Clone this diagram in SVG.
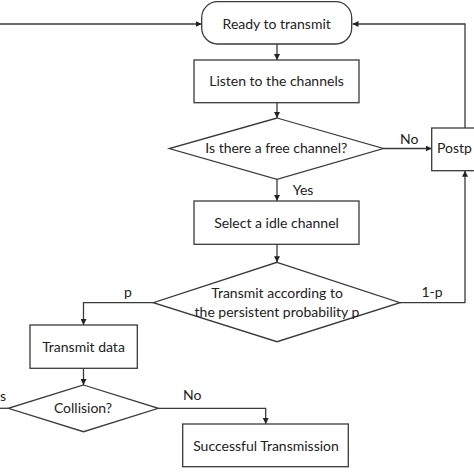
<svg xmlns="http://www.w3.org/2000/svg" width="474" height="474" viewBox="0 0 474 474">
<style>
.box{fill:#fff;stroke:#3a3a3a;stroke-width:1.3}
.ln{fill:none;stroke:#3a3a3a;stroke-width:1.3}
text{font-family:Lato,"Liberation Sans",sans-serif;font-size:14px;fill:#222}
.c{text-anchor:middle}
</style>
<defs>
<marker id="ah" viewBox="0 0 10 10" refX="10" refY="5" markerWidth="6" markerHeight="6" markerUnits="userSpaceOnUse" orient="auto">
<path d="M0,0 L10,5 L0,10 z" fill="#222"/>
</marker>
</defs>
<rect width="474" height="474" fill="#fff"/>
<g id="connectors">
<path class="ln" d="M0,24 H201.5" marker-end="url(#ah)"/>
<path class="ln" d="M277,44 V60" marker-end="url(#ah)"/>
<path class="ln" d="M277,103 V118" marker-end="url(#ah)"/>
<path class="ln" d="M383.3,148.5 H431.7" marker-end="url(#ah)"/>
<path class="ln" d="M277,179.3 V201" marker-end="url(#ah)"/>
<path class="ln" d="M277,244.3 V262.3" marker-end="url(#ah)"/>
<path class="ln" d="M400,302.7 H465 V170.7" marker-end="url(#ah)"/>
<path class="ln" d="M465,128 V24 H352.5" marker-end="url(#ah)"/>
<path class="ln" d="M153.3,302.7 H83.5 V325" marker-end="url(#ah)"/>
<path class="ln" d="M83.5,368.3 V385" marker-end="url(#ah)"/>
<path class="ln" d="M8.3,408.3 H0"/>
<path class="ln" d="M158.3,408.3 H265.7 V424" marker-end="url(#ah)"/>
<text x="400" y="143.5">No</text>
<text x="292.7" y="195">Yes</text>
<text x="124" y="297">p</text>
<text x="421.5" y="297">1-p</text>
<text x="183" y="400">No</text>
<text x="0" y="400.5">s</text>
</g>
<g id="ready">
<rect class="box" x="201.7" y="1.7" width="150" height="42.3" rx="16" ry="16"/>
<text class="c" x="276.7" y="29">Ready to transmit</text>
</g>
<g id="listen">
<rect class="box" x="194" y="60" width="165" height="42.7"/>
<text class="c" x="276.5" y="86">Listen to the channels</text>
</g>
<g id="free">
<polygon class="box" points="277,118 383.3,148.5 277,179.3 169.3,148.5"/>
<text class="c" x="276.3" y="153">Is there a free channel?</text>
</g>
<g id="postp">
<rect class="box" x="431.7" y="128" width="60" height="42.7"/>
<text x="437" y="153">Postp</text>
</g>
<g id="select">
<rect class="box" x="194" y="201" width="165" height="43.3"/>
<text class="c" x="276.5" y="227.5">Select a idle channel</text>
</g>
<g id="persist">
<polygon class="box" points="277,262.3 400,302.7 277,341.7 153.3,302.7"/>
<text class="c" x="277" y="297.5">Transmit according to</text>
<text class="c" x="277" y="317">the persistent probability p</text>
</g>
<g id="transmit">
<rect class="box" x="30" y="325" width="107.3" height="43.3"/>
<text class="c" x="83.5" y="351.5">Transmit data</text>
</g>
<g id="collision">
<polygon class="box" points="83.5,385 158.3,408.3 83.5,431.7 8.3,408.3"/>
<text class="c" x="83" y="413">Collision?</text>
</g>
<g id="success">
<rect class="box" x="182.7" y="424" width="165.6" height="42.7"/>
<text class="c" x="266" y="450.5">Successful Transmission</text>
</g>
</svg>
